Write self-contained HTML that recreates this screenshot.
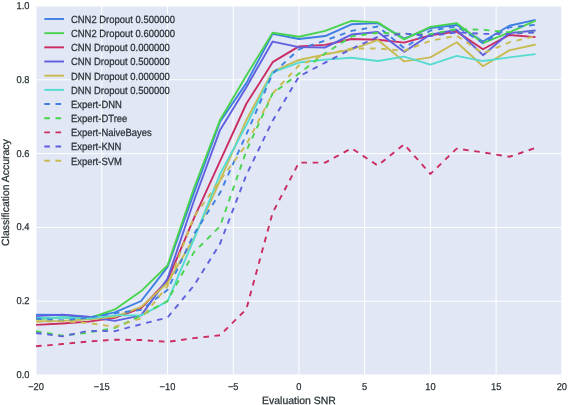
<!DOCTYPE html><html><head><meta charset="utf-8"><style>html,body{margin:0;padding:0;background:#fff;}svg{display:block;}text{font-family:'Liberation Sans', Arial, sans-serif;fill:#283236;text-rendering:geometricPrecision;stroke:#283236;stroke-width:0.25px;}</style></head><body>
<svg width="568" height="405" viewBox="0 0 568 405">
<rect x="0" y="0" width="568" height="405" fill="#ffffff"/>
<g>
<rect x="36.02" y="6.00" width="525.84" height="369.00" fill="#e1e7f4"/>
<path d="M36.02 6.00V375.00M101.75 6.00V375.00M167.48 6.00V375.00M233.21 6.00V375.00M298.94 6.00V375.00M364.67 6.00V375.00M430.40 6.00V375.00M496.13 6.00V375.00M561.86 6.00V375.00M36.02 375.00H561.86M36.02 301.20H561.86M36.02 227.40H561.86M36.02 153.60H561.86M36.02 79.80H561.86M36.02 6.00H561.86" stroke="#ffffff" stroke-width="1" fill="none"/>
<clipPath id="c"><rect x="36.02" y="6.00" width="525.84" height="369.00"/></clipPath>
<g clip-path="url(#c)" fill="none" stroke-width="1.9" stroke-linejoin="round" stroke-linecap="butt">
<polyline points="36.02,314.62 62.31,314.98 88.60,317.56 114.90,312.41 141.19,301.00 167.48,267.14 193.77,193.54 220.06,121.78 246.36,83.14 272.65,33.83 298.94,38.98 325.23,36.04 351.52,24.26 377.82,23.16 404.11,38.62 430.40,27.94 456.69,25.00 482.98,41.56 509.28,25.74 535.57,19.85" stroke="#3f7fe2"/>
<polyline points="36.02,319.03 62.31,317.56 88.60,318.30 114.90,309.46 141.19,291.06 167.48,265.49 193.77,188.76 220.06,119.94 246.36,75.42 272.65,32.73 298.94,36.78 325.23,30.89 351.52,20.95 377.82,22.42 404.11,39.35 430.40,26.84 456.69,23.16 482.98,43.03 509.28,32.36 535.57,20.58" stroke="#48d44e"/>
<polyline points="36.02,324.92 62.31,323.45 88.60,321.61 114.90,317.93 141.19,307.99 167.48,280.54 193.77,218.57 220.06,161.16 246.36,103.75 272.65,62.17 298.94,46.34 325.23,44.87 351.52,38.98 377.82,39.72 404.11,42.66 430.40,35.30 456.69,31.62 482.98,49.29 509.28,34.94 535.57,37.14" stroke="#cb2c62"/>
<polyline points="36.02,316.09 62.31,314.62 88.60,316.82 114.90,320.87 141.19,315.35 167.48,278.92 193.77,201.27 220.06,129.88 246.36,87.19 272.65,41.56 298.94,47.08 325.23,47.45 351.52,34.57 377.82,31.99 404.11,51.86 430.40,34.57 456.69,29.78 482.98,55.18 509.28,33.10 535.57,30.52" stroke="#5f5fe0"/>
<polyline points="36.02,321.42 62.31,320.87 88.60,319.40 114.90,316.82 141.19,306.89 167.48,282.97 193.77,238.44 220.06,180.66 246.36,120.05 272.65,71.55 298.94,59.96 325.23,54.44 351.52,49.47 377.82,40.09 404.11,61.43 430.40,57.38 456.69,42.30 482.98,66.22 509.28,50.39 535.57,44.50" stroke="#c8bb52"/>
<polyline points="36.02,317.93 62.31,317.56 88.60,318.66 114.90,315.35 141.19,315.35 167.48,301.37 193.77,239.54 220.06,174.04 246.36,125.10 272.65,72.47 298.94,62.54 325.23,59.59 351.52,57.75 377.82,61.06 404.11,56.65 430.40,64.56 456.69,55.91 482.98,61.06 509.28,57.38 535.57,54.07" stroke="#55dbd0"/>
<polyline points="36.02,318.66 62.31,320.50 88.60,317.56 114.90,313.25 141.19,309.83 167.48,289.96 193.77,234.39 220.06,192.81 246.36,134.30 272.65,73.58 298.94,49.29 325.23,40.46 351.52,30.89 377.82,26.47 404.11,48.00 430.40,30.52 456.69,26.47 482.98,43.18 509.28,27.39 535.57,24.82" stroke="#3f7fe2" stroke-dasharray="5.6 5.6"/>
<polyline points="36.02,331.18 62.31,335.59 88.60,332.65 114.90,327.86 141.19,315.72 167.48,301.00 193.77,252.42 220.06,226.30 246.36,150.86 272.65,93.45 298.94,73.58 325.23,53.34 351.52,36.41 377.82,32.73 404.11,33.83 430.40,34.20 456.69,29.05 482.98,29.78 509.28,32.36 535.57,32.36" stroke="#48d44e" stroke-dasharray="5.6 5.6"/>
<polyline points="36.02,346.26 62.31,344.06 88.60,341.48 114.90,339.64 141.19,340.01 167.48,341.85 193.77,338.17 220.06,335.22 246.36,309.10 272.65,212.68 298.94,162.63 325.23,162.63 351.52,148.28 377.82,165.58 404.11,144.34 430.40,173.93 456.69,148.65 482.98,152.33 509.28,156.74 535.57,147.91" stroke="#cb2c62" stroke-dasharray="5.6 5.6"/>
<polyline points="36.02,333.02 62.31,336.33 88.60,330.81 114.90,331.18 141.19,324.18 167.48,317.56 193.77,285.73 220.06,243.59 246.36,174.96 272.65,120.68 298.94,76.52 325.23,62.54 351.52,48.92 377.82,36.78 404.11,33.46 430.40,36.04 456.69,32.36 482.98,33.83 509.28,33.83 535.57,32.36" stroke="#5f5fe0" stroke-dasharray="5.6 5.6"/>
<polyline points="36.02,321.61 62.31,321.24 88.60,323.08 114.90,326.76 141.19,318.30 167.48,286.28 193.77,217.10 220.06,180.30 246.36,144.60 272.65,93.45 298.94,65.48 325.23,54.44 351.52,48.55 377.82,48.55 404.11,50.76 430.40,40.82 456.69,35.67 482.98,53.34 509.28,42.30 535.57,36.04" stroke="#c8bb52" stroke-dasharray="5.6 5.6"/>
</g>
<line x1="44.3" y1="19.00" x2="64" y2="19.00" stroke="#3f7fe2" stroke-width="1.9"/><text transform="translate(70.9 22.90) scale(0.91 1)" font-size="10.4">CNN2 Dropout 0.500000</text><line x1="44.3" y1="33.17" x2="64" y2="33.17" stroke="#48d44e" stroke-width="1.9"/><text transform="translate(70.9 37.07) scale(0.91 1)" font-size="10.4">CNN2 Dropout 0.600000</text><line x1="44.3" y1="47.34" x2="64" y2="47.34" stroke="#cb2c62" stroke-width="1.9"/><text transform="translate(70.9 51.24) scale(0.91 1)" font-size="10.4">CNN Dropout 0.000000</text><line x1="44.3" y1="61.51" x2="64" y2="61.51" stroke="#5f5fe0" stroke-width="1.9"/><text transform="translate(70.9 65.41) scale(0.91 1)" font-size="10.4">CNN Dropout 0.500000</text><line x1="44.3" y1="75.68" x2="64" y2="75.68" stroke="#c8bb52" stroke-width="1.9"/><text transform="translate(70.9 79.58) scale(0.91 1)" font-size="10.4">DNN Dropout 0.000000</text><line x1="44.3" y1="89.85" x2="64" y2="89.85" stroke="#55dbd0" stroke-width="1.9"/><text transform="translate(70.9 93.75) scale(0.91 1)" font-size="10.4">DNN Dropout 0.500000</text><line x1="44.3" y1="104.02" x2="64" y2="104.02" stroke="#3f7fe2" stroke-width="1.9" stroke-dasharray="5.6 5.6"/><text transform="translate(70.9 107.92) scale(0.91 1)" font-size="10.4">Expert-DNN</text><line x1="44.3" y1="118.19" x2="64" y2="118.19" stroke="#48d44e" stroke-width="1.9" stroke-dasharray="5.6 5.6"/><text transform="translate(70.9 122.09) scale(0.91 1)" font-size="10.4">Expert-DTree</text><line x1="44.3" y1="132.36" x2="64" y2="132.36" stroke="#cb2c62" stroke-width="1.9" stroke-dasharray="5.6 5.6"/><text transform="translate(70.9 136.26) scale(0.91 1)" font-size="10.4">Expert-NaiveBayes</text><line x1="44.3" y1="146.53" x2="64" y2="146.53" stroke="#5f5fe0" stroke-width="1.9" stroke-dasharray="5.6 5.6"/><text transform="translate(70.9 150.43) scale(0.91 1)" font-size="10.4">Expert-KNN</text><line x1="44.3" y1="160.70" x2="64" y2="160.70" stroke="#c8bb52" stroke-width="1.9" stroke-dasharray="5.6 5.6"/><text transform="translate(70.9 164.60) scale(0.91 1)" font-size="10.4">Expert-SVM</text>
<text transform="translate(29.4 377.54) scale(0.93 1)" font-size="10" text-anchor="end">0.0</text>
<text transform="translate(29.4 303.88) scale(0.93 1)" font-size="10" text-anchor="end">0.2</text>
<text transform="translate(29.4 230.22) scale(0.93 1)" font-size="10" text-anchor="end">0.4</text>
<text transform="translate(29.4 156.56) scale(0.93 1)" font-size="10" text-anchor="end">0.6</text>
<text transform="translate(29.4 82.90) scale(0.93 1)" font-size="10" text-anchor="end">0.8</text>
<text transform="translate(29.4 9.24) scale(0.93 1)" font-size="10" text-anchor="end">1.0</text>
<text transform="translate(36.02 389.9) scale(0.93 1)" font-size="10" text-anchor="middle">−20</text>
<text transform="translate(101.75 389.9) scale(0.93 1)" font-size="10" text-anchor="middle">−15</text>
<text transform="translate(167.48 389.9) scale(0.93 1)" font-size="10" text-anchor="middle">−10</text>
<text transform="translate(233.21 389.9) scale(0.93 1)" font-size="10" text-anchor="middle">−5</text>
<text transform="translate(298.94 389.9) scale(0.93 1)" font-size="10" text-anchor="middle">0</text>
<text transform="translate(364.67 389.9) scale(0.93 1)" font-size="10" text-anchor="middle">5</text>
<text transform="translate(430.40 389.9) scale(0.93 1)" font-size="10" text-anchor="middle">10</text>
<text transform="translate(496.13 389.9) scale(0.93 1)" font-size="10" text-anchor="middle">15</text>
<text transform="translate(561.86 389.9) scale(0.93 1)" font-size="10" text-anchor="middle">20</text>
<text x="298.94" y="403.6" font-size="10.45" text-anchor="middle">Evaluation SNR</text>
<text transform="translate(9.2 192.60) rotate(-90)" font-size="10.45" text-anchor="middle">Classification Accuracy</text>
</g></svg></body></html>
